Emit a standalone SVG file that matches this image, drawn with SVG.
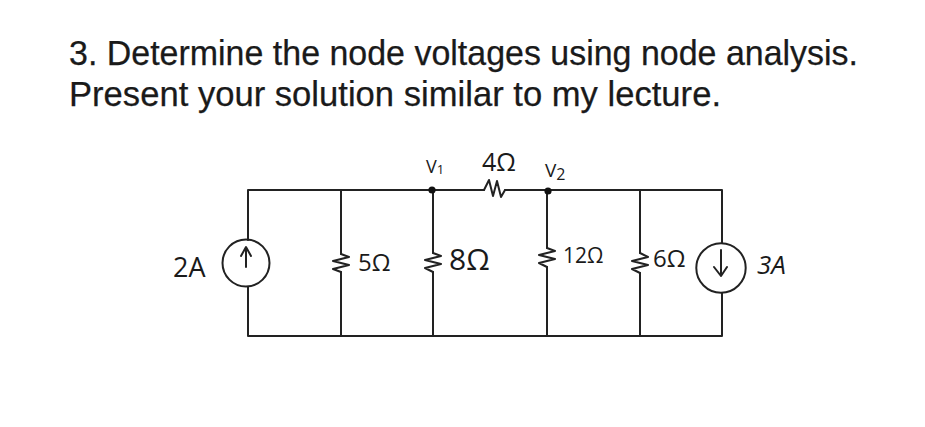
<svg xmlns="http://www.w3.org/2000/svg" width="925" height="427" viewBox="0 0 925 427">
<style>
.w{fill:none;stroke:#222;stroke-width:2;stroke-linejoin:round;stroke-linecap:round}
.t{font-family:"Liberation Sans",Arial,sans-serif;font-size:34.4px;fill:#1a1a1a;stroke:#1a1a1a;stroke-width:.25}
.h{font-family:"Open Sans","DejaVu Sans",sans-serif;fill:#1a1a1a;font-weight:400}
</style>
<rect width="925" height="427" fill="#fff"/>
<g id="title">
<text class="t" x="69" y="65" textLength="789" lengthAdjust="spacingAndGlyphs">3. Determine the node voltages using node analysis.</text>
<text class="t" x="69" y="106" textLength="652" lengthAdjust="spacingAndGlyphs">Present your solution similar to my lecture.</text>
</g>
<g id="connectors">
<path class="w" d="M248 240V190H484M505 190H722V243M722 293V336H248V287"/>
<path class="w" d="M341 190V254M341 272V336"/>
<path class="w" d="M433 190V253M433 272V336"/>
<path class="w" d="M547 190V248M547 267V336"/>
<path class="w" d="M640 190V253M640 273V336"/>
</g>
<g id="node-v1"><circle cx="432" cy="190" r="3.6" fill="#111"/><text class="h" x="426" y="173" font-size="18">V<tspan font-size="13" dy="1">1</tspan></text></g>
<g id="node-v2"><circle cx="548" cy="191" r="3.6" fill="#111"/><text class="h" x="545" y="177" font-size="19">V<tspan font-size="16" dy="3">2</tspan></text></g>
<g id="r-4"><path class="w" d="M484 190L489 180L493 196L497 181L501 197L505 190"/><text class="h" x="482" y="171" font-size="25">4Ω</text></g>
<g id="r-5"><path class="w" d="M341 254L349 257L333 261L349 265L333 269L341 272"/><text class="h" x="358" y="271" font-size="24">5Ω</text></g>
<g id="r-8"><path class="w" d="M433 253L441 256L425 260L441 264L425 268L433 272"/><text class="h" x="449" y="270" font-size="30">8Ω</text></g>
<g id="r-12"><path class="w" d="M547 248L555 251L539 255L555 259L539 263L547 267"/><text class="h" x="563" y="263" font-size="21">12Ω</text></g>
<g id="r-6"><path class="w" d="M640 253L648 257L632 261L648 265L632 269L640 273"/><text class="h" x="653" y="267" font-size="24">6Ω</text></g>
<g id="src-2a"><circle class="w" cx="246" cy="263" r="23.5"/><path class="w" d="M246 267V248M241 256L246 247L251 256"/><text class="h" x="173" y="277" font-size="27">2A</text></g>
<g id="src-3a"><circle class="w" cx="721" cy="268" r="24.7"/><path class="w" d="M721 250V276M714 267L721 276L727 267"/><text class="h" x="757" y="274" font-size="26" font-style="italic">3A</text></g>
</svg>
